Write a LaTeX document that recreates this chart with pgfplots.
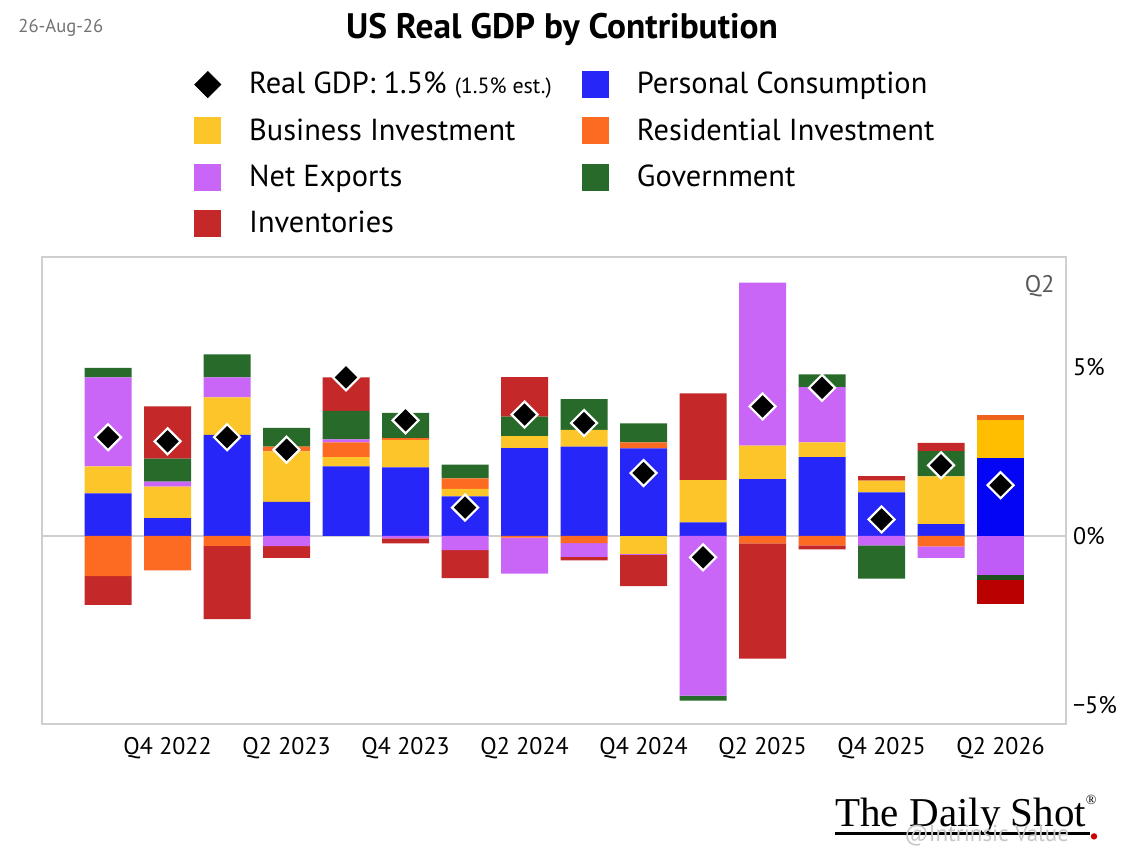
\documentclass[border=0pt]{standalone}
\usepackage{pgfplots}
\pgfplotsset{compat=1.18}
\usepackage{pgfplotstable}
\usepackage{fontspec}
\setmainfont{PT Sans}
\newfontfamily\logofont{Liberation Serif}
\definecolor{cCons}{HTML}{2626F8}
\definecolor{cBus}{HTML}{FCC62A}
\definecolor{cRes}{HTML}{FD6A21}
\definecolor{cNx}{HTML}{C966F7}
\definecolor{cGov}{HTML}{276A2A}
\definecolor{cInv}{HTML}{C42828}
% latest (estimated) quarter is drawn in slightly deeper shades
\definecolor{lCons}{HTML}{0505F5}
\definecolor{lBus}{HTML}{FFBF00}
\definecolor{lRes}{HTML}{EE621E}
\definecolor{lNx}{HTML}{BF5CF7}
\definecolor{lGov}{HTML}{1F4F1F}
\definecolor{lInv}{HTML}{BB0000}
\definecolor{frame}{HTML}{CFCFCF}

% Contributions to real GDP growth (percentage points), Q3 2022 ... Q1 2026
\pgfplotstableread{
x  cons  bus   res   nx    gov   inv   gdp
0  1.26  0.80 -1.19  2.63  0.28 -0.85  2.92
1  0.53  0.93 -1.02  0.15  0.68  1.54  2.80
2  2.99  1.11 -0.29  0.59  0.68 -2.17  2.92
3  1.01  1.49  0.14 -0.30  0.56 -0.35  2.55
4  2.06  0.27  0.44  0.09  0.84  0.99  4.69
5  2.03  0.81  0.05 -0.07  0.75 -0.15  3.42
6  1.17  0.22  0.31 -0.42  0.41 -0.83  0.84
7  2.60  0.35 -0.05 -1.06  0.58  1.17  3.59
8  2.64  0.50 -0.21 -0.41  0.91 -0.10  3.34
9  2.59 -0.52  0.18 -0.04  0.56 -0.92  1.86
10 0.40  1.25  0.00 -4.72 -0.15  2.57 -0.63
11 1.68  0.99 -0.22  4.82  0.00 -3.41  3.83
12 2.33  0.44 -0.28  1.63  0.38 -0.12  4.38
13 1.29  0.35  0.00 -0.28 -0.98  0.13  0.49
14 0.35  1.41 -0.31 -0.34  0.75  0.24  2.09
}\gdptable
% latest quarter, Q2 2026
\pgfplotstableread{
x  cons  bus   res   nx    gov   inv   gdp
15 2.30  1.13  0.14 -1.14 -0.16 -0.71  1.50
}\lasttable

\pgfplotsset{
  base/.style={
    at={(21pt,68pt)}, anchor=south west, scale only axis,
    width=512pt, height=233.5pt,
    xmin=-1.11, xmax=16.10, ymin=-5.56, ymax=8.25,
  },
  bars/.style={base, ybar stacked, bar width=23.5pt},
  sq/.style={legend image code/.code={\fill[##1] (0pt,-6.5pt) rectangle (13pt,6.5pt);}},
}

\begin{document}
\begin{tikzpicture}
\path[use as bounding box, fill=white] (0,0) rectangle (562pt,430pt);

% positive parts
\begin{axis}[bars,
  axis line style={draw=frame, line width=1pt},
  ytick={-5,0,5}, yticklabels={−5\%,0\%,5\%},
  yticklabel pos=right,
  xtick={1,3,5,7,9,11,13,15},
  xticklabels={Q4 2022,Q2 2023,Q4 2023,Q2 2024,Q4 2024,Q2 2025,Q4 2025,Q2 2026},
  major tick length=0pt,
  tick label style={font=\fontsize{12}{14}\selectfont, text=black},
  xticklabel style={yshift=-3pt},
  extra y ticks={0}, extra y tick labels={},
  extra y tick style={grid=major, major grid style={draw=frame, line width=1pt}},
  legend style={at={(0.1484,1.405)}, anchor=north west, draw=none, fill=none,
    font=\fontsize{15.2}{18}\selectfont, inner sep=0pt,
    row sep=6.85pt,
    /tikz/every even column/.style={column sep=0pt},
    /tikz/every odd column/.style={column sep=14pt},
    nodes={inner xsep=0pt}},
  legend columns=2, legend cell align=left,
]
\addlegendimage{legend image code/.code={\fill[black] (6.5pt,6.5pt) -- (13pt,0pt) -- (6.5pt,-6.5pt) -- (0pt,0pt) -- cycle;}}
\addlegendentry{\makebox[166.5pt][l]{Real GDP: 1.5\% {\fontsize{11}{13}\selectfont (1.5\% est.)}}}
\addlegendimage{sq, cCons}\addlegendentry{Personal Consumption}
\addlegendimage{sq, cBus}\addlegendentry{\makebox[166.5pt][l]{Business Investment}}
\addlegendimage{sq, cRes}\addlegendentry{Residential Investment}
\addlegendimage{sq, cNx}\addlegendentry{\makebox[166.5pt][l]{Net Exports}}
\addlegendimage{sq, cGov}\addlegendentry{Government}
\addlegendimage{sq, cInv}\addlegendentry{\makebox[166.5pt][l]{Inventories}}

\addplot[forget plot, fill=cCons, draw=none] table[x=x, y expr={max(\thisrow{cons},0)}] {\gdptable};
\addplot[forget plot, fill=cBus, draw=none] table[x=x, y expr={max(\thisrow{bus},0)}] {\gdptable};
\addplot[forget plot, fill=cRes, draw=none] table[x=x, y expr={max(\thisrow{res},0)}] {\gdptable};
\addplot[forget plot, fill=cNx, draw=none] table[x=x, y expr={max(\thisrow{nx},0)}] {\gdptable};
\addplot[forget plot, fill=cGov, draw=none] table[x=x, y expr={max(\thisrow{gov},0)}] {\gdptable};
\addplot[forget plot, fill=cInv, draw=none] table[x=x, y expr={max(\thisrow{inv},0)}] {\gdptable};

\node[anchor=north east, text=black!65, font=\fontsize{12}{14}\selectfont, inner sep=0pt] at (rel axis cs:0.989,0.961) {Q2};
\end{axis}

% negative parts
\begin{axis}[bars, hide axis]
\addplot[fill=cCons, draw=none] table[x=x, y expr={min(\thisrow{cons},0)}] {\gdptable};
\addplot[fill=cBus, draw=none] table[x=x, y expr={min(\thisrow{bus},0)}] {\gdptable};
\addplot[fill=cRes, draw=none] table[x=x, y expr={min(\thisrow{res},0)}] {\gdptable};
\addplot[fill=cNx, draw=none] table[x=x, y expr={min(\thisrow{nx},0)}] {\gdptable};
\addplot[fill=cGov, draw=none] table[x=x, y expr={min(\thisrow{gov},0)}] {\gdptable};
\addplot[fill=cInv, draw=none] table[x=x, y expr={min(\thisrow{inv},0)}] {\gdptable};
\end{axis}

% latest quarter, positive parts
\begin{axis}[bars, hide axis]
\addplot[fill=lCons, draw=none] table[x=x, y expr={max(\thisrow{cons},0)}] {\lasttable};
\addplot[fill=lBus, draw=none] table[x=x, y expr={max(\thisrow{bus},0)}] {\lasttable};
\addplot[fill=lRes, draw=none] table[x=x, y expr={max(\thisrow{res},0)}] {\lasttable};
\addplot[fill=lNx, draw=none] table[x=x, y expr={max(\thisrow{nx},0)}] {\lasttable};
\addplot[fill=lGov, draw=none] table[x=x, y expr={max(\thisrow{gov},0)}] {\lasttable};
\addplot[fill=lInv, draw=none] table[x=x, y expr={max(\thisrow{inv},0)}] {\lasttable};
\end{axis}

% latest quarter, negative parts
\begin{axis}[bars, hide axis]
\addplot[fill=lCons, draw=none] table[x=x, y expr={min(\thisrow{cons},0)}] {\lasttable};
\addplot[fill=lBus, draw=none] table[x=x, y expr={min(\thisrow{bus},0)}] {\lasttable};
\addplot[fill=lRes, draw=none] table[x=x, y expr={min(\thisrow{res},0)}] {\lasttable};
\addplot[fill=lNx, draw=none] table[x=x, y expr={min(\thisrow{nx},0)}] {\lasttable};
\addplot[fill=lGov, draw=none] table[x=x, y expr={min(\thisrow{gov},0)}] {\lasttable};
\addplot[fill=lInv, draw=none] table[x=x, y expr={min(\thisrow{inv},0)}] {\lasttable};
\end{axis}

% real GDP diamonds
\begin{axis}[base, hide axis, clip=false]
\addplot[only marks, mark=square*, mark size=4.6pt,
  mark options={rotate=45, fill=black, draw=white, line width=1.1pt}]
  table[x=x, y=gdp] {\gdptable};
\addplot[only marks, mark=square*, mark size=4.6pt,
  mark options={rotate=45, fill=black, draw=white, line width=1.1pt}]
  table[x=x, y=gdp] {\lasttable};
\end{axis}

% title and annotations
\node[anchor=base, font=\bfseries\fontsize{17.7}{21}\selectfont] at (281pt,410.5pt) {US Real GDP by Contribution};
\node[anchor=base west, text=black!55, font=\fontsize{9.3}{11}\selectfont, inner sep=0pt] at (9pt,413.5pt) {26-Aug-26};
\node[anchor=base west, inner sep=0pt, font=\logofont\fontsize{20.5}{24}\selectfont] at (417.5pt,16.5pt) {The Daily Shot\raisebox{0.55em}{\fontsize{7}{8}\selectfont ®}};
\fill[black] (417.5pt,12.6pt) rectangle (545pt,13.8pt);
\fill[red!80!black] (547pt,11.8pt) circle (1.6pt);
\node[anchor=base west, inner sep=0pt, text=black!22, font=\fontsize{11.5}{13}\selectfont] at (452pt,9pt) {@Intrinsic Value};
\end{tikzpicture}
\end{document}
